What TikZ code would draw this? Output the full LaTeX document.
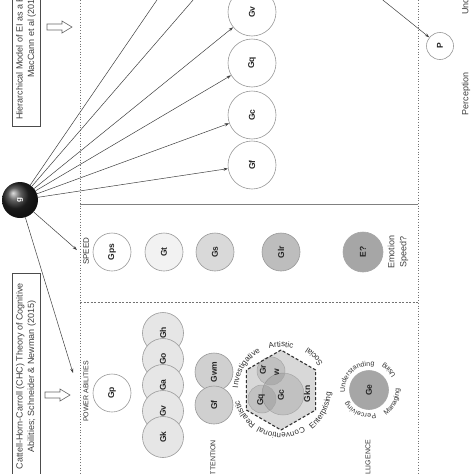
\documentclass[tikz,border=0pt]{standalone}
\usepackage{fontspec}
\setmainfont{Liberation Sans}
\usetikzlibrary{arrows.meta,decorations.text,shadings}
\definecolor{cT}{HTML}{F2F2F2}
\definecolor{cS}{HTML}{D9D9D9}
\definecolor{cLR}{HTML}{BDBDBD}
\definecolor{cE}{HTML}{A6A6A6}
\definecolor{cCol}{HTML}{E6E6E6}
\definecolor{cWm}{HTML}{D0D0D0}
\definecolor{cHex}{HTML}{D8D8D8}
\newcommand{\hexf}{\fontsize{8}{10}\selectfont}
\newcommand{\gef}{\fontsize{7}{8}\selectfont}
\begin{document}
\begin{tikzpicture}[x=1pt,y=1pt,
  gnode/.style={circle,draw=black!40,line width=0.6pt,inner sep=0pt,rotate=90,
    font=\bfseries\fontsize{8.5}{10}\selectfont,text=black!85},
  conn/.style={draw=black!75,line width=0.5pt,-{Stealth[length=4.5pt,width=3pt]}},
  plainline/.style={draw=black!75,line width=0.5pt},
  lbl/.style={rotate=90,font=\fontsize{9}{11}\selectfont,text=black!75,inner sep=0pt},
  sec/.style={rotate=90,font=\fontsize{7}{8}\selectfont,text=black!80,inner sep=0pt},
  hol/.style={draw=black!60,line width=0.6pt,fill=white},
  titlebox/.style={draw=black!70,line width=0.6pt,rotate=90,align=center,
    font=\fontsize{9}{11.5}\selectfont,text=black!75,inner xsep=7pt,inner ysep=4pt},
  ctext/.style={decorate,decoration={text along path,text align=center,text color=black!80,text={#1}}},
  inlbl/.style={rotate=90,font=\bfseries\fontsize{8.5}{10}\selectfont,text=black!85,inner sep=0pt}
  ]
\useasboundingbox (0,0) rectangle (474,-474);
\clip (0,0) rectangle (474,-474);
\fill[white] (0,0) rectangle (474,-474);

% section dividers
\draw[black!55,line width=0.7pt,dotted] (80,5) -- (80,-480);
\draw[black!55,line width=0.7pt,dotted] (418,5) -- (418,-480);
\draw[black!50,line width=0.9pt] (80,-204) -- (418,-204);
\draw[black!55,line width=0.7pt,dash pattern=on 2pt off 1.5pt] (80,-302) -- (418,-302);

% title boxes
\node[titlebox,anchor=west] (tbox) at (26,-127) {Hierarchical Model of EI as a Broad Ability;\\MacCann et al (2014)};
\node[titlebox,anchor=east,inner xsep=10pt] (bbox) at (26,-273) {Cattell-Horn-Carroll (CHC) Theory of Cognitive\\Abilities; Schneider \& Newman (2015)};

% hollow arrows
\draw[hol] (47,-24) -- (62,-24) -- (62,-21) -- (72,-27) -- (62,-33) -- (62,-30) -- (47,-30) -- cycle;
\draw[hol] (45,-392) -- (60,-392) -- (60,-389) -- (70,-395) -- (60,-401) -- (60,-398) -- (45,-398) -- cycle;

% g
\node[circle,minimum size=36pt,inner sep=0pt,ball color=black!85,text=white,
  font=\bfseries\fontsize{8}{9}\selectfont,rotate=90] (g) at (20,-200) {g};

% top (EI model) circles
\node[gnode,minimum size=48pt,fill=white] (tGv) at (252,-12) {Gv};
\node[gnode,minimum size=48pt,fill=white] (tGq) at (252,-63) {Gq};
\node[gnode,minimum size=48pt,fill=white] (tGc) at (252,-115) {Gc};
\node[gnode,minimum size=48pt,fill=white] (tGf) at (252,-165) {Gf};
\node[gnode,minimum size=27pt,fill=white] (P) at (440,-46) {P};

\coordinate (o1) at (198,60);
\coordinate (o2) at (245,60);
\coordinate (oP) at (271,90);
\coordinate (sp) at (77,-250);
\coordinate (pw) at (73,-373);

\draw[plainline] (g) -- (o1);
\draw[plainline] (g) -- (o2);
\draw[conn] (g) -- (tGv);
\draw[conn] (g) -- (tGq);
\draw[conn] (g) -- (tGc);
\draw[conn] (g) -- (tGf);
\draw[conn] (g) -- (sp);
\draw[conn] (g) -- (pw);
\draw[conn] (oP) -- (P);

\node[lbl,anchor=east] (perc) at (466,-72) {Perception};
\node[lbl,anchor=west] (und) at (466,-15) {Understanding};

% speed row
\node[sec,anchor=west,font=\fontsize{8}{9}\selectfont] (speed) at (86,-265) {SPEED};
\node[gnode,minimum size=38pt,fill=white] (Gps) at (112,-252) {Gps};
\node[gnode,minimum size=38pt,fill=cT] (Gt) at (164,-252) {Gt};
\node[gnode,minimum size=38pt,fill=cS] (Gs) at (215,-252) {Gs};
\node[gnode,minimum size=38pt,fill=cLR] (Glr) at (281,-252) {Glr};
\node[gnode,minimum size=40pt,fill=cE,draw=cE] (Eq) at (363,-252) {E?};
\node[lbl,align=center,font=\fontsize{9}{12}\selectfont] (emsp) at (398,-252) {Emotion\\Speed?};

% power abilities
\node[sec,anchor=west] (power) at (86,-422) {POWER ABILITIES};
\node[gnode,minimum size=38pt,fill=white] (Gp) at (112,-393) {Gp};
\node[gnode,minimum size=41pt,fill=cCol] (Gh) at (163,-333) {Gh};
\node[gnode,minimum size=41pt,fill=cCol] (Go) at (163,-359) {Go};
\node[gnode,minimum size=41pt,fill=cCol] (Ga) at (163,-385) {Ga};
\node[gnode,minimum size=41pt,fill=cCol] (Gv) at (163,-411) {Gv};
\node[gnode,minimum size=41pt,fill=cCol] (Gk) at (163,-437) {Gk};

\node[gnode,minimum size=38pt,fill=cWm] (Gwm) at (214,-372) {Gwm};
\node[gnode,minimum size=38pt,fill=cWm] (Gf) at (214,-405) {Gf};
\node[sec,anchor=east] (att) at (213,-440) {ATTENTION};

% hexagon
\begin{scope}[shift={(281,-390)}]
  \fill[cHex] (90:40) -- (150:40) -- (210:40) -- (270:40) -- (330:40) -- (30:40) -- cycle;
  \fill[black,opacity=0.1] (2,-4) circle (21);
  \draw[black!35,line width=0.5pt] (2,-4) circle (21);
  \fill[black,opacity=0.1] (-19,-9) circle (14);
  \draw[black!35,line width=0.5pt] (-19,-9) circle (14);
  \fill[black,opacity=0.1] (-10,19) circle (14);
  \draw[black!35,line width=0.5pt] (-10,19) circle (14);
  \draw[black!80,line width=1.1pt,dash pattern=on 3pt off 2pt]
    (90:40) -- (150:40) -- (210:40) -- (270:40) -- (330:40) -- (30:40) -- cycle;
  \path[ctext={|\hexf|Artistic}] (140:43) arc[start angle=140,end angle=40,radius=43];
  \path[ctext={|\hexf|Investigative}] (210:43) arc[start angle=210,end angle=86,radius=43];
  \path[ctext={|\hexf|Realistic}] (255:43) arc[start angle=255,end angle=173,radius=43];
  \path[ctext={|\hexf|Conventional}] (325:43) arc[start angle=325,end angle=215,radius=43];
  \path[ctext={|\hexf|Social}] (0:50) arc[start angle=0,end angle=90,radius=50];
  \path[ctext={|\hexf|Enterprising}] (-80:50) arc[start angle=-80,end angle=26,radius=50];
\end{scope}
\node[inlbl] (lGq) at (261,-400) {Gq};
\node[inlbl] (lGr) at (263,-370) {Gr};
\node[inlbl] (lw) at (277,-372) {w};
\node[inlbl] (lGc) at (281,-395) {Gc};
\node[inlbl] (lGkn) at (307,-394) {Gkn};

% Ge
\node[gnode,minimum size=39pt,fill=cE,draw=cE] (Ge) at (369,-390) {Ge};
\begin{scope}[shift={(369,-390)}]
  \path[ctext={|\gef|Understanding}] (205:24) arc[start angle=205,end angle=59,radius=24];
  \path[ctext={|\gef|Perceiving}] (320:24) arc[start angle=320,end angle=174,radius=24];
  \path[ctext={|\gef|Using}] (0:30.5) arc[start angle=0,end angle=90,radius=30.5];
  \path[ctext={|\gef|Managing}] (-85:30.5) arc[start angle=-85,end angle=31,radius=30.5];
\end{scope}
\node[sec,anchor=east] (intel) at (368,-440) {INTELLIGENCE};
\end{tikzpicture}
\end{document}
